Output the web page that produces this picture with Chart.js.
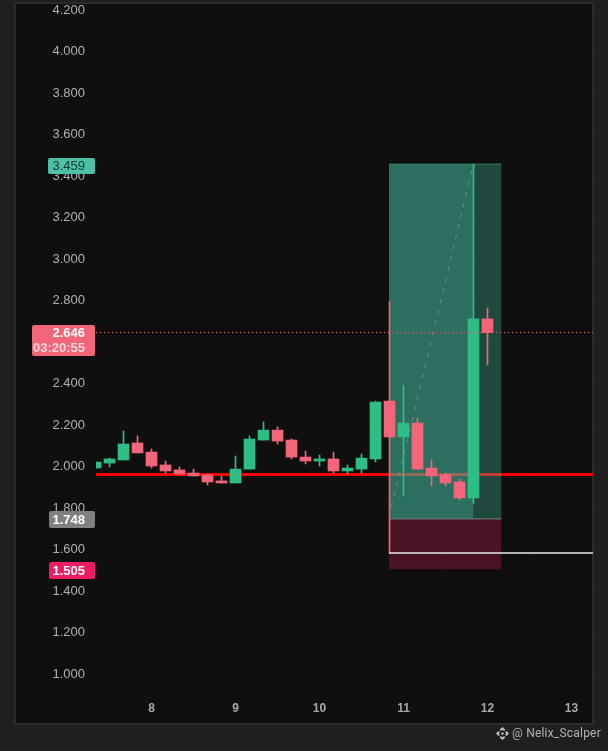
<!DOCTYPE html>
<html><head><meta charset="utf-8">
<style>
html,body{margin:0;padding:0;width:608px;height:751px;background:#1f1f1f;overflow:hidden}
#frame{position:absolute;left:14px;top:2px;width:576px;height:719px;background:#0f0f0f;border:2px solid #2b2b2b}
#c{position:absolute;left:0;top:0}
#mark{position:absolute;left:496px;top:726px;height:15px;display:flex;align-items:center;color:#b4b4b4;font:12px/15px Roboto,"Liberation Sans",sans-serif;letter-spacing:.2px}
#mark svg{margin-right:3px}
</style>
<script src="https://cdn.jsdelivr.net/npm/chart.js@4"></script>
</head><body>
<div id="frame"></div>
<canvas id="c" width="608" height="751"></canvas>
<div id="mark"><svg width="13" height="13" viewBox="0 0 13 13" fill="#c8c8c8"><path d="M6.5 0 9.3 2.8 8 4.1 6.5 2.6 5 4.1 3.7 2.8ZM2.6 3.9 3.9 5.2 2.6 6.5 3.9 7.8 2.6 9.1 0 6.5ZM10.4 3.9 13 6.5 10.4 9.1 9.1 7.8 10.4 6.5 9.1 5.2ZM6.5 5 8 6.5 6.5 8 5 6.5ZM3.7 10.2 5 8.9 6.5 10.4 8 8.9 9.3 10.2 6.5 13Z"/></svg>@ Nelix_Scalper</div>
<script>
const firstTime = 7.3333;              // time of the first candle
const stepsPerUnit = 6;                // candles per x-axis unit
const opens  = [1.993,2.017,2.032,2.114,2.070,2.008,1.984,1.969,1.960,1.931,1.921,1.988,2.128,2.176,2.128,2.046,2.027,2.037,1.979,1.988,2.037,2.316,2.143,2.210,1.993,1.960,1.926,1.849,2.712];
const closes = [2.022,2.037,2.109,2.066,2.003,1.979,1.964,1.955,1.926,1.921,1.988,2.133,2.176,2.123,2.046,2.027,2.037,1.979,1.993,2.041,2.311,2.143,2.210,1.988,1.955,1.921,1.849,2.712,2.646];
const highs  = [2.022,2.041,2.172,2.148,2.085,2.027,1.998,1.988,1.964,1.955,2.051,2.148,2.215,2.191,2.133,2.075,2.056,2.070,2.008,2.061,2.316,2.794,2.393,2.234,2.032,1.969,1.940,3.459,2.765];
const lows   = [1.993,1.998,2.032,2.066,1.993,1.969,1.964,1.955,1.911,1.921,1.921,1.988,2.128,2.109,2.037,2.013,2.003,1.969,1.964,1.969,2.022,1.583,1.858,1.988,1.906,1.906,1.839,1.820,2.490];
const yTicks = [1.0,1.2,1.4,1.6,1.8,2.0,2.2,2.4,2.6,2.8,3.0,3.2,3.4,3.6,3.8,4.0,4.2];
const xTicks = [8,9,10,11,12,13];
const supportLevel = 1.962;
const lastPrice = 2.646;
const countdown = "03:20:55";
const takeProfit = 3.459;
const entryPrice = 1.748;
const stopLoss = 1.505;
const exitPrice = 1.583;
const boxStart = 10.827, boxFill = 11.833, boxEnd = 12.167;
const pathX = [10.827,11.833,11.9];
const pathY = [1.756,3.459,3.416];
const exitLineX = [10.827,13.3];
const xRange = [7.339,13.256];
const yRange = [0.9036,4.2353];

const GREEN="#2ebd85", RED="#f3667a";
const times = opens.map((_,i)=>firstTime + i/stepsPerUnit);
const colorOf = i => closes[i]>=opens[i] ? GREEN : RED;
const level = (v,x0,x1)=>[{x:x0,y:v},{x:x1,y:v}];
const lineBase = {type:'line',pointRadius:0,tension:0,fill:false,borderWidth:1};
const FONT='"Liberation Sans",Arial,sans-serif';

const priceTags = {
  id:'priceTags',
  afterDraw(ch){
    const g=ch.ctx, ys=ch.scales.y, R=95;
    const tag=(v,l,h,bg,dy)=>{
      const top=Math.round(ys.getPixelForValue(v))-8+dy;
      g.fillStyle=bg; g.beginPath(); g.roundRect(l,top,R-l,h,2); g.fill();
      return top;
    };
    g.save();
    g.textAlign='right'; g.textBaseline='middle';
    g.font='13px '+FONT;
    let t=tag(takeProfit,48,16,"#4fbfa6",2); g.fillStyle="#123b33"; g.fillText(takeProfit.toFixed(3),85,t+8.5);
    g.font='bold 13px '+FONT;
    t=tag(lastPrice,32,31,RED,0); g.fillStyle="#fff"; g.fillText(lastPrice.toFixed(3),85,t+8.5);
    g.fillStyle="rgba(255,255,255,.72)"; g.fillText(countdown,85,t+23);
    t=tag(entryPrice,49,17,"#808080",0); g.fillStyle="#fff"; g.fillText(entryPrice.toFixed(3),85,t+9);
    t=tag(stopLoss,49,17,"#ee1c63",1); g.fillStyle="#fff"; g.fillText(stopLoss.toFixed(3),85,t+9);
    g.restore();
  }
};

new Chart(document.getElementById('c'),{
  type:'bar',
  data:{datasets:[
    {...lineBase,label:'support',data:level(supportLevel,xRange[0],xRange[1]),borderColor:"#ff0000",borderWidth:3,order:9},
    {...lineBase,label:'profit',data:level(takeProfit,boxStart,boxEnd),borderColor:"rgba(80,190,165,.45)",backgroundColor:"rgba(65,180,155,.35)",fill:{value:entryPrice},order:8},
    {...lineBase,label:'profitFilled',data:level(takeProfit,boxStart,boxFill),borderWidth:0,backgroundColor:"rgba(65,180,155,.35)",fill:{value:entryPrice},order:7},
    {...lineBase,label:'stop',data:level(stopLoss,boxStart,boxEnd),borderWidth:0,backgroundColor:"rgba(242,30,97,.26)",fill:{value:entryPrice},order:8},
    {...lineBase,label:'entry',data:level(entryPrice,boxStart,boxEnd),borderColor:"#6f8a84",order:6},
    {...lineBase,label:'path',data:pathX.map((x,i)=>({x,y:pathY[i]})),borderColor:"rgba(170,170,170,.55)",borderDash:[4,7],order:5},
    {label:'wicks',data:times.map((x,i)=>({x,y:[lows[i],highs[i]]})),backgroundColor:ctx=>colorOf(ctx.dataIndex),barThickness:1,grouped:false,order:4},
    {label:'bodies',data:times.map((x,i)=>({x,y:[opens[i],closes[i]]})),backgroundColor:ctx=>colorOf(ctx.dataIndex),barThickness:11,grouped:false,order:3},
    {...lineBase,label:'exit',data:level(exitPrice,exitLineX[0],exitLineX[1]),borderColor:"#e8e8e8",borderWidth:1.5,order:2},
    {...lineBase,label:'last',data:level(lastPrice,xRange[0],xRange[1]),borderColor:RED,borderDash:[1,3],order:1}
  ]},
  plugins:[priceTags],
  options:{
    responsive:false,animation:false,devicePixelRatio:1,
    layout:{padding:{left:0,right:15,top:3,bottom:0}},
    plugins:{legend:{display:false},tooltip:{enabled:false}},
    scales:{
      x:{type:'linear',offset:false,min:xRange[0],max:xRange[1],
        afterBuildTicks:s=>{s.ticks=xTicks.map(value=>({value}));},
        afterFit:s=>{s.height=57;s.paddingLeft=0;s.paddingRight=0;},
        grid:{color:"rgba(255,255,255,.035)",drawTicks:false},
        border:{display:false,dash:[1,3]},
        ticks:{padding:7,color:"#a8a8a8",maxRotation:0,autoSkip:false,font:{family:FONT,size:12,weight:'bold'},callback:v=>String(v)}},
      y:{type:'linear',min:yRange[0],max:yRange[1],
        afterBuildTicks:s=>{s.ticks=yTicks.map(value=>({value}));},
        afterFit:s=>{s.width=96;s.paddingTop=0;s.paddingBottom=0;},
        grid:{color:"rgba(255,255,255,.035)",drawTicks:false},
        border:{display:false,dash:[1,3]},
        ticks:{padding:11,color:"#b0b0b0",autoSkip:false,font:{family:FONT,size:13},callback:v=>Number(v).toFixed(3)}}
    }
  }
});
</script>
</body></html>
